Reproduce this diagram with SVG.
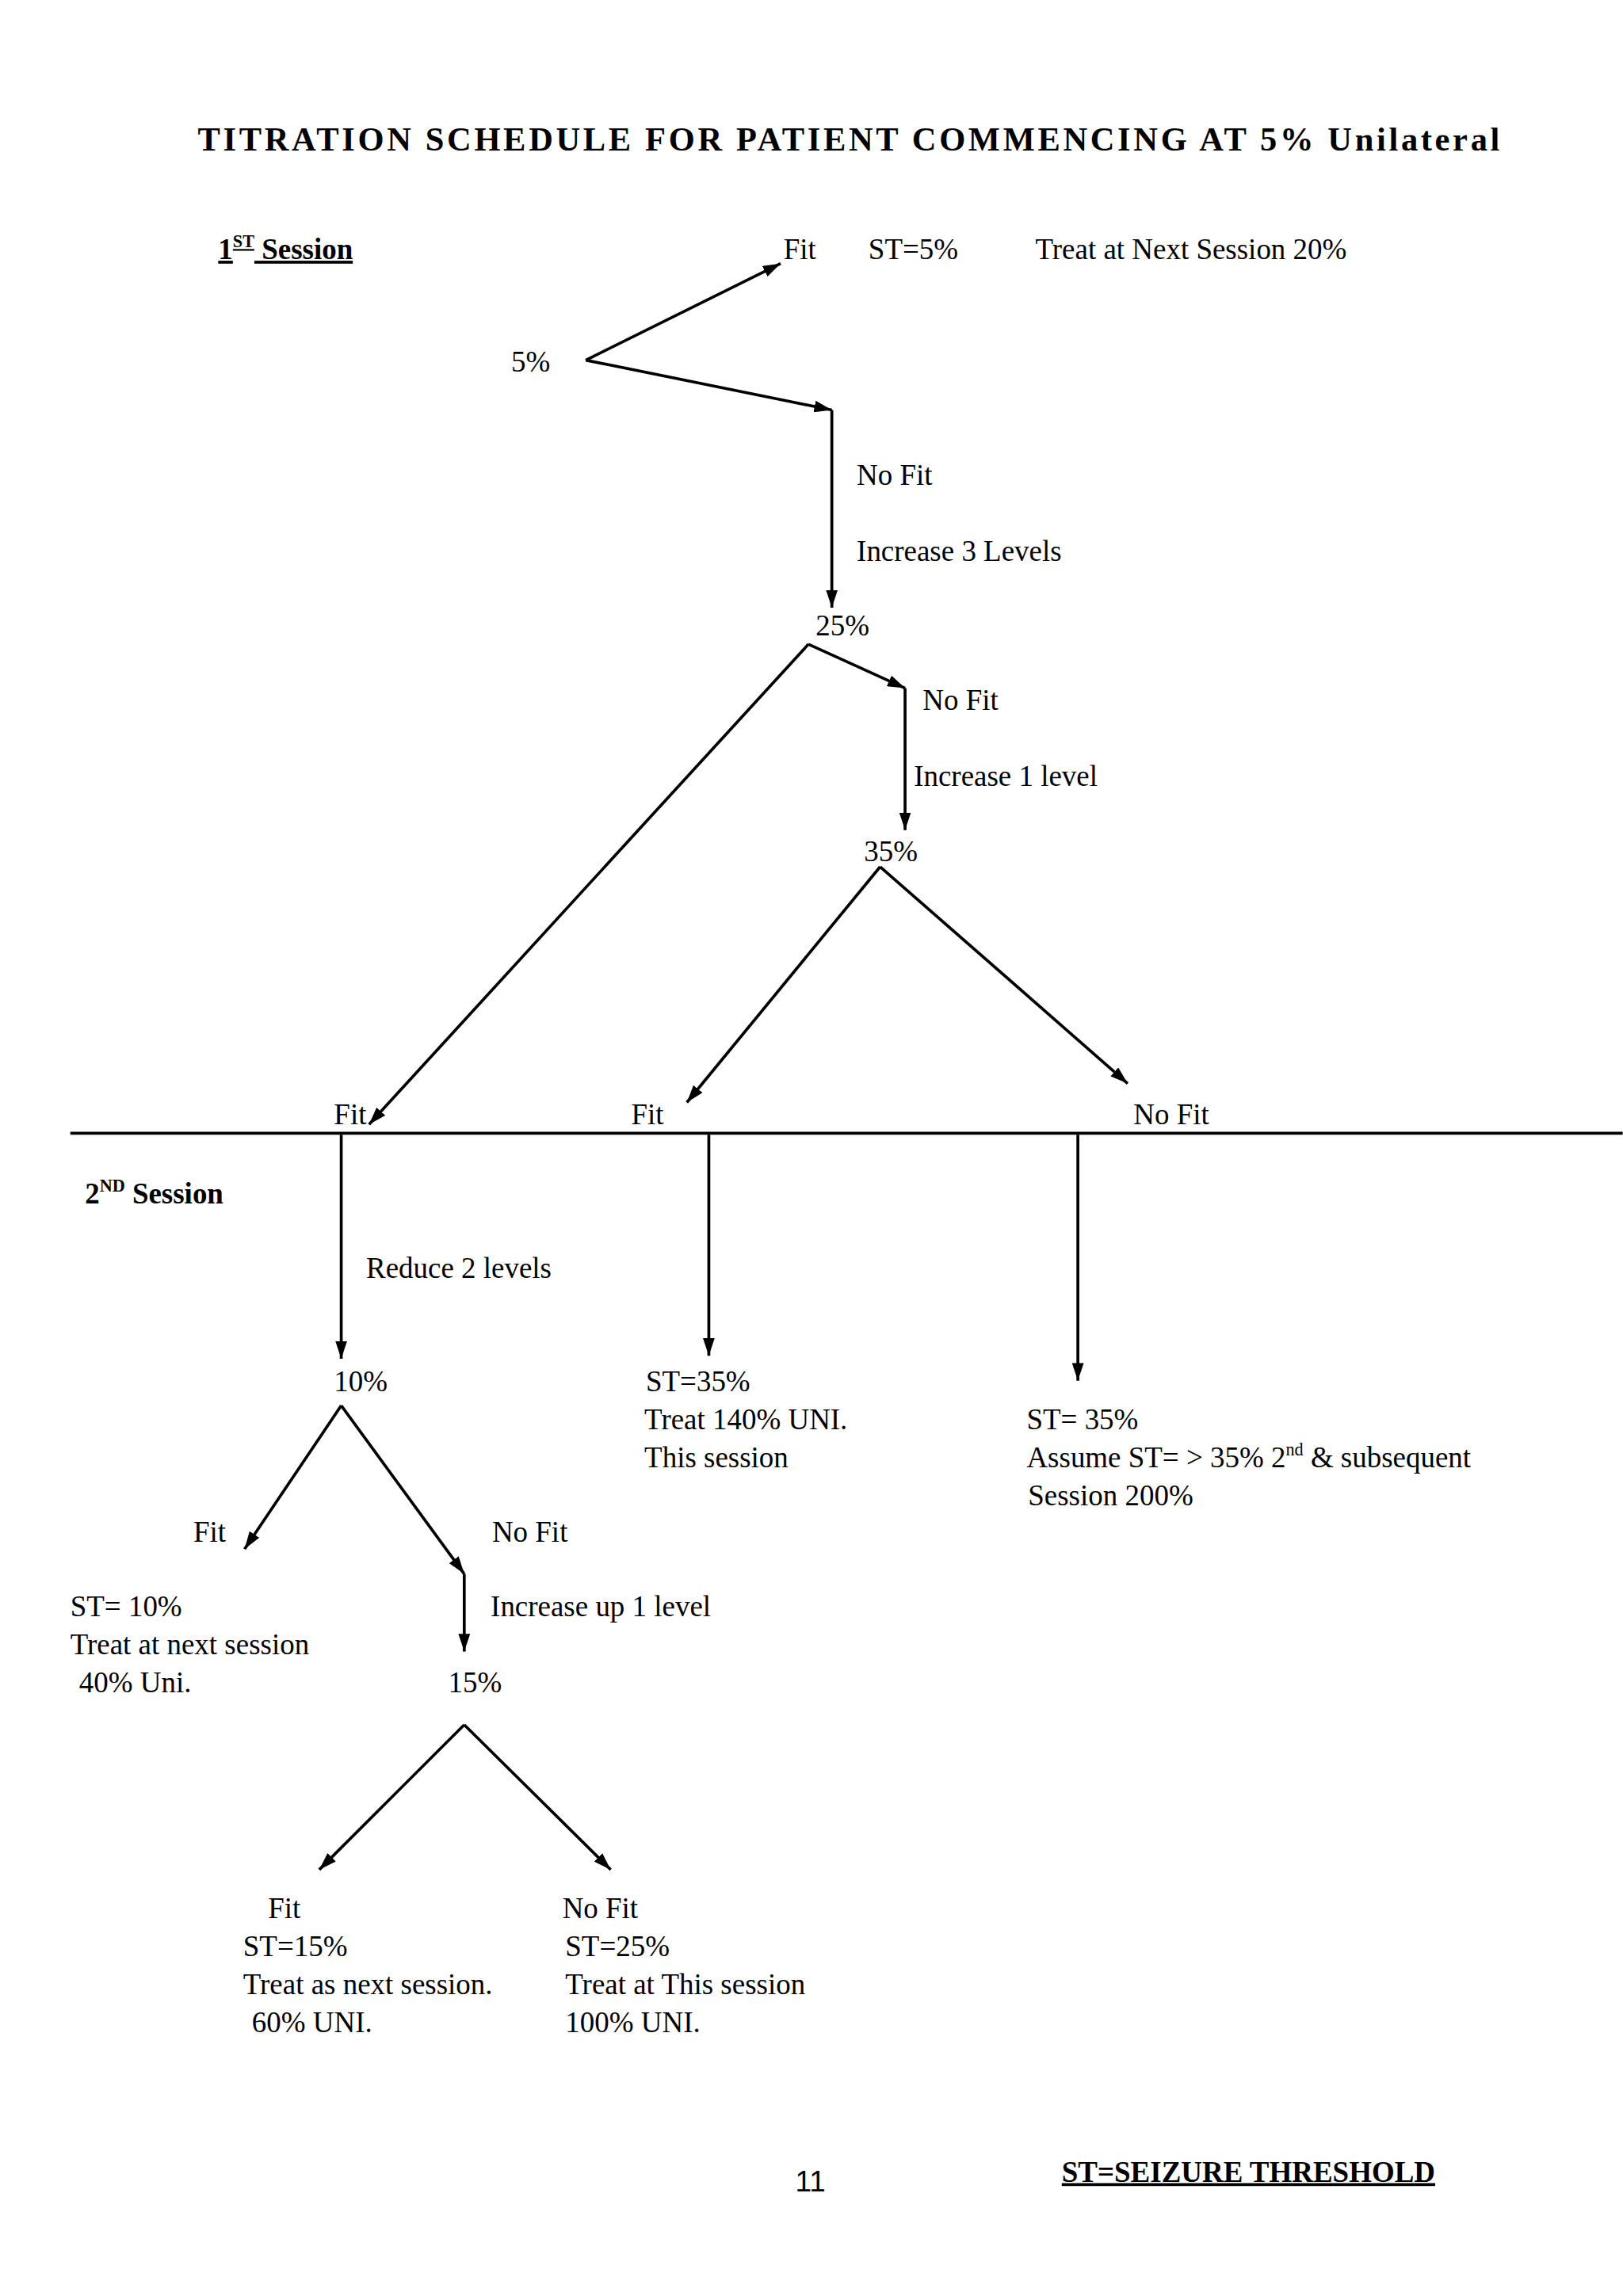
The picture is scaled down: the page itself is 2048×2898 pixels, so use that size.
<svg xmlns="http://www.w3.org/2000/svg" width="2048" height="2898" viewBox="0 0 2048 2898">
<defs>
<marker id="ah" viewBox="0 0 12 8" refX="12" refY="4" markerWidth="12" markerHeight="8" markerUnits="userSpaceOnUse" orient="auto"><path d="M0,0 L12,4 L0,8 Z" fill="#000"/></marker>
<style>
text{font-family:"Liberation Serif","Times New Roman",serif;font-size:20px;fill:#000}
.b{font-weight:bold}
.u{text-decoration:underline}
.c line{stroke:#000;stroke-width:2}
.a{marker-end:url(#ah)}
</style>
</defs>
<rect width="2048" height="2898" fill="#fff"/>
<g transform="scale(1.848)">
<g id="title"><text x="135" y="103" class="b" style="font-size:23px" textLength="889">TITRATION SCHEDULE FOR PATIENT COMMENCING AT 5% Unilateral</text></g>
<g id="s1"><text x="149" y="177" class="b u">1<tspan dy="-8" style="font-size:12px">ST</tspan><tspan dy="8"> Session</tspan></text></g>
<g id="n5fit"><text x="535" y="177">Fit</text><text x="593" y="177">ST=5%</text><text x="707" y="177">Treat at Next Session 20%</text></g>
<g id="n5"><text x="349" y="254">5%</text></g>
<g id="l1"><text x="585" y="331">No Fit</text><text x="585" y="383">Increase 3 Levels</text></g>
<g id="n25"><text x="557" y="434">25%</text></g>
<g id="l2"><text x="630" y="485">No Fit</text><text x="624" y="537">Increase 1 level</text></g>
<g id="n35"><text x="590" y="588">35%</text></g>
<g id="fits"><text x="228" y="768">Fit</text><text x="431" y="768">Fit</text><text x="774" y="768">No Fit</text></g>
<g id="s2"><text x="58" y="822" class="b">2<tspan dy="-8" style="font-size:12px">ND</tspan><tspan dy="8">  Session</tspan></text></g>
<g id="l3"><text x="250" y="873">Reduce 2 levels</text></g>
<g id="n10"><text x="228" y="950">10%</text></g>
<g id="st35"><text x="441" y="950">ST=35%</text><text x="440" y="976">Treat 140% UNI.</text><text x="440" y="1002">This session</text></g>
<g id="st35b"><text x="701" y="976">ST= 35%</text><text x="701" y="1002">Assume ST= &gt; 35% 2<tspan dy="-8" style="font-size:12px">nd</tspan><tspan dy="8"> &amp; subsequent</tspan></text><text x="702" y="1028">Session 200%</text></g>
<g id="l4"><text x="132" y="1053">Fit</text><text x="336" y="1053">No Fit</text><text x="335" y="1104">Increase up 1 level</text></g>
<g id="st10"><text x="48" y="1104">ST= 10%</text><text x="48" y="1130">Treat at next session</text><text x="54" y="1156">40% Uni.</text></g>
<g id="n15"><text x="306" y="1156">15%</text></g>
<g id="st15"><text x="183" y="1310">Fit</text><text x="166" y="1336">ST=15%</text><text x="166" y="1362">Treat as next session.</text><text x="172" y="1388">60% UNI.</text></g>
<g id="st25"><text x="384" y="1310">No Fit</text><text x="386" y="1336">ST=25%</text><text x="386" y="1362">Treat at This session</text><text x="386" y="1388">100% UNI.</text></g>
<g id="footer"><text x="543" y="1497" style="font-family:'Liberation Sans',Arial,sans-serif">11</text><text x="725" y="1490" class="b u">ST=SEIZURE THRESHOLD</text></g>
<g id="connectors" class="c">
<line class="a" x1="400" y1="246" x2="533" y2="180"/>
<line class="a" x1="400" y1="246" x2="568" y2="280"/>
<line class="a" x1="568" y1="280" x2="568" y2="415"/>
<line class="a" x1="552" y1="440" x2="252" y2="768"/>
<line class="a" x1="552" y1="440" x2="618" y2="470"/>
<line class="a" x1="618" y1="470" x2="618" y2="567"/>
<line class="a" x1="601" y1="592" x2="469" y2="753"/>
<line class="a" x1="601" y1="592" x2="770" y2="740"/>
<line x1="48" y1="774" x2="1108" y2="774"/>
<line class="a" x1="233" y1="775" x2="233" y2="928"/>
<line class="a" x1="484" y1="775" x2="484" y2="926"/>
<line class="a" x1="736" y1="775" x2="736" y2="943"/>
<line class="a" x1="233" y1="960" x2="167" y2="1058"/>
<line class="a" x1="233" y1="960" x2="317" y2="1075"/>
<line class="a" x1="317" y1="1075" x2="317" y2="1128"/>
<line class="a" x1="317" y1="1178" x2="218" y2="1277"/>
<line class="a" x1="317" y1="1178" x2="417" y2="1277"/>
</g>
</g>
</svg>
